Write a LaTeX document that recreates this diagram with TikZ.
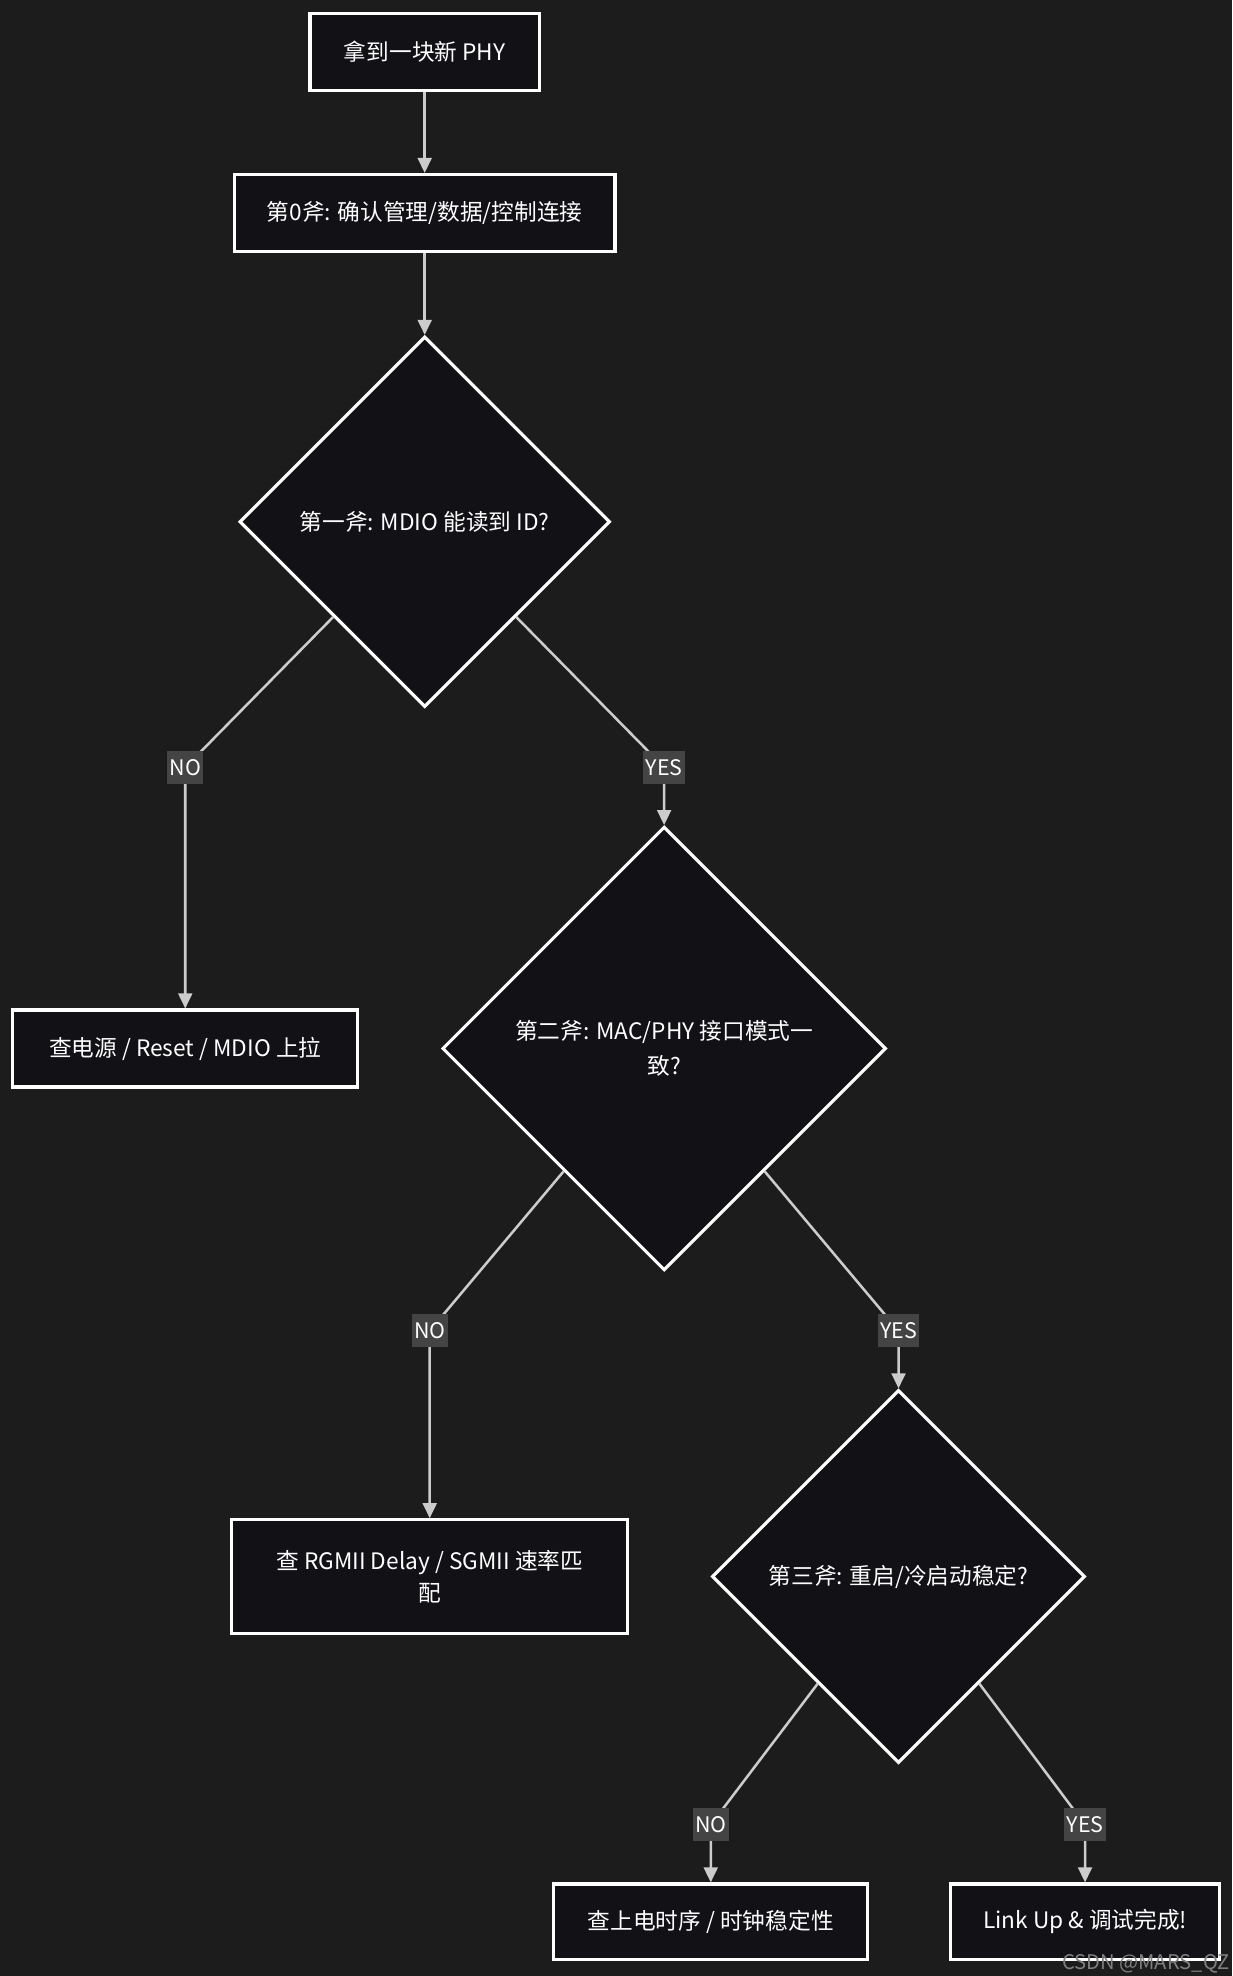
\documentclass[tikz,border=0pt]{standalone}
\usepackage{fontspec}
\setmainfont{Noto Sans CJK SC}
\usetikzlibrary{shapes.geometric,arrows.meta,calc}
\definecolor{bg}{HTML}{1C1C1C}
\definecolor{nodefill}{HTML}{111116}
\definecolor{edgec}{HTML}{CCCCCC}
\definecolor{lblbg}{HTML}{444444}
\begin{document}
\begin{tikzpicture}[x=1pt,y=1pt,
  box/.style={draw=white,line width=2.5pt,fill=nodefill,text=white,font=\fontsize{18}{25}\selectfont,align=center,inner sep=0pt},
  dia/.style={diamond,draw=white,line width=2.5pt,fill=nodefill,text=white,font=\fontsize{18}{28}\selectfont,align=center,inner sep=0pt},
  edge/.style={draw=edgec,line width=2pt,-{Triangle[length=12pt,width=11pt]}},
  lbl/.style={fill=lblbg,text=white,font=\fontsize{17}{20}\selectfont,inner sep=2pt,minimum height=26pt}]
\useasboundingbox (0,0) rectangle (978,-1568);
\fill[bg] (0,0) rectangle (978,-1568);
\node[box,minimum width=182pt,minimum height=61pt] (a) at (337,-41) {拿到一块新 PHY};
\node[box,minimum width=302pt,minimum height=61pt] (b) at (337,-169) {第0斧: 确认管理/数据/控制连接};
\node[dia,minimum width=294pt,minimum height=294pt] (d1) at (337,-414) {第一斧: MDIO 能读到 ID?};
\node[box,minimum width=274pt,minimum height=61pt] (e) at (147,-832) {查电源 / Reset / MDIO 上拉};
\node[dia,minimum width=352pt,minimum height=352pt] (d2) at (527,-832) {第二斧: MAC/PHY 接口模式一\\致?};
\node[box,minimum width=314pt,minimum height=90pt] (f) at (341,-1251) {查 RGMII Delay / SGMII 速率匹\\配};
\node[dia,minimum width=296pt,minimum height=296pt] (d3) at (713,-1251) {第三斧: 重启/冷启动稳定?};
\node[box,minimum width=249pt,minimum height=60pt] (g) at (564,-1525) {查上电时序 / 时钟稳定性};
\node[box,minimum width=213pt,minimum height=60pt] (h) at (861,-1525) {Link Up \& 调试完成!};
\draw[edge] (a) -- (b);
\draw[edge] (b) -- (d1);
\draw[edge] ($(d1.south)!0.49!(d1.west)$) -- (147,-609) node[lbl]{NO} -- (e.north);
\draw[edge] ($(d1.south)!0.49!(d1.east)$) -- (527,-609) node[lbl]{YES} -- (d2.north);
\draw[edge] ($(d2.south)!0.45!(d2.west)$) -- (341,-1056) node[lbl]{NO} -- (f.north);
\draw[edge] ($(d2.south)!0.45!(d2.east)$) -- (713,-1056) node[lbl]{YES} -- (d3.north);
\draw[edge] ($(d3.south)!0.43!(d3.west)$) -- (564,-1448) node[lbl]{NO} -- (g.north);
\draw[edge] ($(d3.south)!0.43!(d3.east)$) -- (861,-1448) node[lbl]{YES} -- (h.north);
\node[text=gray,font=\fontsize{16}{18}\selectfont,anchor=south east,inner sep=2pt] (wm) at (978,-1568) {CSDN @MARS\_QZ};
\end{tikzpicture}
\end{document}
